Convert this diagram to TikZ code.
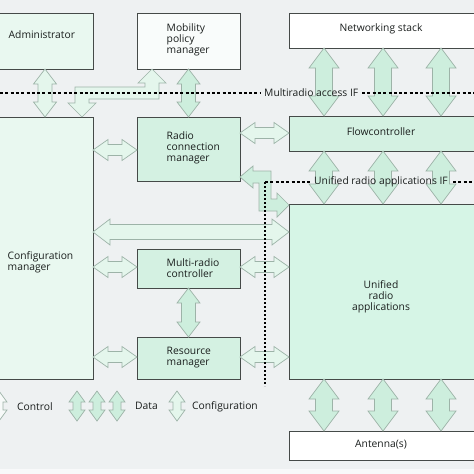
\documentclass[tikz,border=0pt]{standalone}
\usepackage{fontspec}
\setmainfont{Open Sans}
\usetikzlibrary{calc}
\definecolor{bg}{HTML}{EEF1F2}
\definecolor{boxline}{HTML}{454A48}
\definecolor{boxgreen}{HTML}{D4F1E2}
\definecolor{boxlight}{HTML}{E9F8F0}
\definecolor{boxwhite}{HTML}{F9FCFB}
\definecolor{urafill}{HTML}{D6F5E6}
\definecolor{datafill}{HTML}{CDEEDD}
\definecolor{conffill}{HTML}{E4F6EC}
\definecolor{ctrlfill}{HTML}{F7FAF9}
\definecolor{arrline}{HTML}{9DB3A8}
\definecolor{txt}{HTML}{1A1E1D}
\newcommand\fs{\fontsize{10.3}{11}\selectfont}
\newcommand\mkbox[6]{\node[box, fill=#6, anchor=north west,
  minimum width={((#4)-(#2))*1pt}, minimum height={((#5)-(#3))*1pt}] (#1) at (#2,#3) {};}
\begin{document}
\begin{tikzpicture}[x=1pt,y=-1pt,
  box/.style={draw=boxline, line width=0.9pt, inner sep=0pt, outer sep=0pt},
  lbl/.style={inner sep=0pt, text=txt, font=\fs, align=left},
  data/.style={fill=datafill, draw=arrline, line width=0.7pt, line join=miter},
  conf/.style={fill=conffill, draw=arrline, line width=0.7pt, line join=miter},
  ctrl/.style={fill=ctrlfill, draw=arrline, line width=0.7pt, line join=miter},
  ifline/.style={draw=black, line width=1.2pt, dash pattern=on 3pt off 2.3pt},
  dotline/.style={draw=black, line width=1.5pt, dash pattern=on 2pt off 2pt},
  varr/.style n args={3}{to path={let \p1=(\tikztostart), \p2=(\tikztotarget) in
    (\x1,\y1) -- (\x1+#1,\y1-#3) -- (\x1+#2,\y1-#3) -- (\x1+#2,\y2+#3) -- (\x1+#1,\y2+#3)
    -- (\x1,\y2) -- (\x1-#1,\y2+#3) -- (\x1-#2,\y2+#3) -- (\x1-#2,\y1-#3) -- (\x1-#1,\y1-#3) -- cycle}},
  harr/.style n args={3}{to path={let \p1=(\tikztostart), \p2=(\tikztotarget) in
    (\x1,\y1) -- (\x1+#3,\y1+#1) -- (\x1+#3,\y1+#2) -- (\x2-#3,\y1+#2) -- (\x2-#3,\y1+#1)
    -- (\x2,\y1) -- (\x2-#3,\y1-#1) -- (\x2-#3,\y1-#2) -- (\x1+#3,\y1-#2) -- (\x1+#3,\y1-#1) -- cycle}},
  vbig/.style={varr={15pt}{8.5pt}{20pt}},
  vmed/.style={varr={11.5pt}{7pt}{15pt}},
  vleg/.style={varr={8pt}{4pt}{11pt}},
  hsm/.style={harr={10.5pt}{5.5pt}{15pt}},
  hlong/.style={harr={13pt}{7.5pt}{17pt}}
]
\useasboundingbox (0,0) rectangle (474,474);
\clip (0,0) rectangle (474,474);
\fill[bg] (0,0) rectangle (474,474);
\fill[white!60!bg] (0,469) rectangle (474,474);

% boxes
\mkbox{adm}{-6}{13}{93}{69}{boxlight}
\mkbox{mob}{137}{13}{240}{69}{boxwhite}
\mkbox{net}{289}{13}{482}{48}{white}
\mkbox{cfg}{-6}{117}{93}{379}{boxlight}
\mkbox{rcm}{137}{117}{240}{181}{boxgreen}
\mkbox{flow}{289}{116}{482}{151}{boxgreen}
\mkbox{mrc}{137}{249}{240}{288}{boxgreen}
\mkbox{rm}{137}{337}{240}{379}{boxgreen}
\mkbox{ura}{289}{204}{482}{379}{urafill}
\mkbox{ant}{289}{431}{482}{460}{white}

% columns and rows for connectors
\coordinate (c1) at (45,0);
\coordinate (c2) at (188.5,0);
\coordinate (d1) at (324,0);
\coordinate (d2) at (383,0);
\coordinate (d3) at (441,0);
\coordinate (r1) at (0,133);
\coordinate (r2) at (0,150);
\coordinate (r3) at (0,232);
\coordinate (r4) at (0,267);
\coordinate (r5) at (0,357);

% vertical arrows
\draw[conf] (adm.south -| c1) to[vmed] (cfg.north -| c1);
\draw[data] (mob.south -| c2) to[vmed] (rcm.north -| c2);
\draw[data] (mrc.south -| c2) to[vmed] (rm.north -| c2);
\foreach \c in {d1,d2,d3}{
  \draw[data] (net.south -| \c) to[vbig] (flow.north -| \c);
  \draw[data] (flow.south -| \c) to[vbig] (ura.north -| \c);
  \draw[data] (ura.south -| \c) to[vbig] (ant.north -| \c);
}
% horizontal arrows
\draw[conf] (cfg.east |- r2) to[hsm] (rcm.west |- r2);
\draw[conf] (rcm.east |- r1) to[hsm] (flow.west |- r1);
\draw[conf] (cfg.east |- r3) to[hlong] (ura.west |- r3);
\draw[conf] (cfg.east |- r4) to[hsm] (mrc.west |- r4);
\draw[conf] (mrc.east |- r4) to[hsm] (ura.west |- r4);
\draw[conf] (cfg.east |- r5) to[hsm] (rm.west |- r5);
\draw[conf] (rm.east |- r5) to[hsm] (ura.west |- r5);

% elbow: configuration manager <-> mobility policy manager
\draw[conf] (82,117) -- (96,103) -- (89,103) -- (89,99) -- (159,99) -- (159,83)
  -- (166,83) -- (152,69) -- (138,83) -- (145,83) -- (145,87) -- (75,87)
  -- (75,103) -- (68,103) -- cycle;
% elbow: radio connection manager <-> unified radio applications
\draw[data] (240,177) -- (253,166) -- (253,171) -- (271,171) -- (271,199) -- (277,199)
  -- (277,193) -- (289,205) -- (277,217) -- (277,211) -- (259,211) -- (259,183)
  -- (253,183) -- (253,188) -- cycle;

% interface lines
\draw[ifline] (0,93) -- (261,93);
\draw[ifline] (362,93) -- (474,93);
\draw[ifline] (265,182) -- (311,182);
\draw[ifline] (453,182) -- (474,182);
\draw[dotline] (265,182) -- (265,386);

% legend arrows
\coordinate (lg0) at (-1,0);
\coordinate (lg1) at (77,0);
\coordinate (lg2) at (97,0);
\coordinate (lg3) at (117,0);
\coordinate (lg4) at (177,0);
\coordinate (lt) at (0,391);
\coordinate (lb) at (0,421);
\draw[ctrl] (lg0 |- lt) to[vleg] (lg0 |- lb);
\foreach \c in {lg1,lg2,lg3}{\draw[data] (\c |- lt) to[vleg] (\c |- lb);}
\draw[conf] (lg4 |- lt) to[vleg] (lg4 |- lb);

% texts
\node[lbl, anchor=west] (tadm) at (8.5,35) {Administrator};
\node[lbl, anchor=west] (tmob) at (166.5,40) {Mobility\\policy\\manager};
\node[lbl] (tnet) at (381,29) {Networking stack};
\node[lbl, anchor=west] (trcm) at (166.5,148) {Radio\\connection\\manager};
\node[lbl] (tflow) at (381,132) {Flowcontroller};
\node[lbl, anchor=west] (tcfg) at (7.5,262) {Configuration\\manager};
\node[lbl, anchor=west] (tmrc) at (166.5,268.5) {Multi-radio\\controller};
\node[lbl, anchor=west] (trm) at (166.5,357.5) {Resource\\manager};
\node[lbl, align=center] (tura) at (381,297) {Unified\\radio\\applications};
\node[lbl] (tant) at (381,445) {Antenna(s)};
\node[lbl, anchor=west] (tif1) at (264,92.5) {Multiradio access IF};
\node[lbl, anchor=west] (tif2) at (314,181.5) {Unified radio applications IF};
\node[lbl, anchor=west] (tctl) at (17,407) {Control};
\node[lbl, anchor=west] (tdat) at (135,405.5) {Data};
\node[lbl, anchor=west] (tcon) at (192,407) {Configuration};
\end{tikzpicture}
\end{document}
